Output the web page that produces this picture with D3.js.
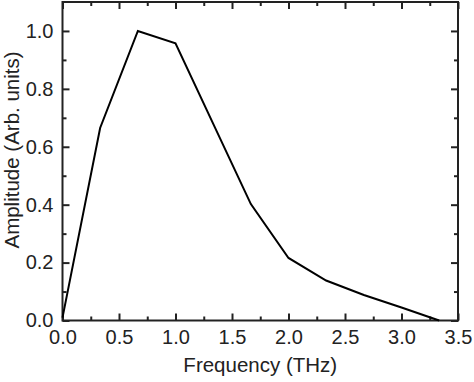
<!DOCTYPE html>
<html>
<head>
<meta charset="utf-8">
<script src="https://cdn.jsdelivr.net/npm/d3@7"></script>
<style>
  body { margin: 0; background: #fff; }
  svg { display: block; }
  text { font-family: "Liberation Sans", Arial, sans-serif; fill: #222; }
</style>
</head>
<body>
<svg></svg>
<script>
// spectrum
let frequency = [ 0, 0.333, 0.667, 1.0, 1.333, 1.667, 2.0, 2.333, 2.667, 3.0, 3.333 ]
let amplitude = [ 0.01, 0.665, 1.0, 0.957, 0.68, 0.402, 0.216, 0.138, 0.088, 0.045, 0.0 ]

let xTicks = [ 0, 0.5, 1.0, 1.5, 2.0, 2.5, 3.0, 3.5 ]
let xMinor = [ 0.25, 0.75, 1.25, 1.75, 2.25, 2.75, 3.25 ]
let yTicks = [ 0, 0.2, 0.4, 0.6, 0.8, 1.0 ]
let yMinor = [ 0.1, 0.3, 0.5, 0.7, 0.9 ]

let width = 474
let height = 382
let margin = { top: 2, right: 16, bottom: 61.5, left: 62.5 }
let innerW = width - margin.left - margin.right
let innerH = height - margin.top - margin.bottom

const xScale =
d3.scaleLinear()
  .domain( [ 0, 3.5 ] )
  .range( [ 0, innerW ] )

const yScale =
d3.scaleLinear()
  .domain( [ 0, 1.1 ] )
  .range( [ innerH, 0 ] )

let svg =
d3.select( 'svg' )
  .attr( 'width', width )
  .attr( 'height', height )

let g = svg.append( 'g' )
  .attr( 'transform', `translate(${margin.left},${margin.top})` )

let fmt = d3.format( '.1f' )
let major = 7
let minor = 4

// axes with inward ticks, labels on bottom and left only
function styleAxis( sel ) {
  sel.select( '.domain' ).remove()
  sel.selectAll( 'line' ).attr( 'stroke', '#222' ).attr( 'stroke-width', 2 )
  sel.selectAll( 'text' ).attr( 'font-size', 20 )
}

g.append( 'g' )
  .attr( 'transform', `translate(0,${innerH})` )
  .call( d3.axisBottom( xScale ).tickValues( xTicks ).tickFormat( fmt ).tickSizeInner( -major ).tickSizeOuter( 0 ).tickPadding( 9 ) )
  .call( styleAxis )

g.append( 'g' )
  .attr( 'transform', `translate(0,${innerH})` )
  .call( d3.axisBottom( xScale ).tickValues( xMinor ).tickFormat( '' ).tickSizeInner( -minor ).tickSizeOuter( 0 ) )
  .call( styleAxis )

g.append( 'g' )
  .call( d3.axisTop( xScale ).tickValues( xTicks ).tickFormat( '' ).tickSizeInner( -major ).tickSizeOuter( 0 ) )
  .call( styleAxis )

g.append( 'g' )
  .call( d3.axisTop( xScale ).tickValues( xMinor ).tickFormat( '' ).tickSizeInner( -minor ).tickSizeOuter( 0 ) )
  .call( styleAxis )

g.append( 'g' )
  .call( d3.axisLeft( yScale ).tickValues( yTicks ).tickFormat( fmt ).tickSizeInner( -major ).tickSizeOuter( 0 ).tickPadding( 9 ) )
  .call( styleAxis )

g.append( 'g' )
  .call( d3.axisLeft( yScale ).tickValues( yMinor ).tickFormat( '' ).tickSizeInner( -minor ).tickSizeOuter( 0 ) )
  .call( styleAxis )

g.append( 'g' )
  .attr( 'transform', `translate(${innerW},0)` )
  .call( d3.axisRight( yScale ).tickValues( yTicks ).tickFormat( '' ).tickSizeInner( -major ).tickSizeOuter( 0 ) )
  .call( styleAxis )

g.append( 'g' )
  .attr( 'transform', `translate(${innerW},0)` )
  .call( d3.axisRight( yScale ).tickValues( yMinor ).tickFormat( '' ).tickSizeInner( -minor ).tickSizeOuter( 0 ) )
  .call( styleAxis )

// frame
g.append( 'rect' )
  .attr( 'width', innerW )
  .attr( 'height', innerH )
  .attr( 'fill', 'none' )
  .attr( 'stroke', '#222' )
  .attr( 'stroke-width', 2 )

let line =
d3.line()
  .x( ( d, i ) => xScale( frequency[ i ] ) )
  .y( d => yScale( d ) )

g.append( 'path' )
  .datum( amplitude )
  .attr( 'd', line )
  .attr( 'fill', 'none' )
  .attr( 'stroke', '#000' )
  .attr( 'stroke-width', 2 )

svg.append( 'text' )
  .text( 'Frequency (THz)' )
  .attr( 'x', margin.left + innerW / 2 )
  .attr( 'y', 372 )
  .attr( 'text-anchor', 'middle' )
  .attr( 'font-size', 20.5 )

svg.append( 'text' )
  .text( 'Amplitude (Arb. units)' )
  .attr( 'transform', 'translate(18.8,150) rotate(-90)' )
  .attr( 'text-anchor', 'middle' )
  .attr( 'font-size', 20.5 )
</script>
</body>
</html>
